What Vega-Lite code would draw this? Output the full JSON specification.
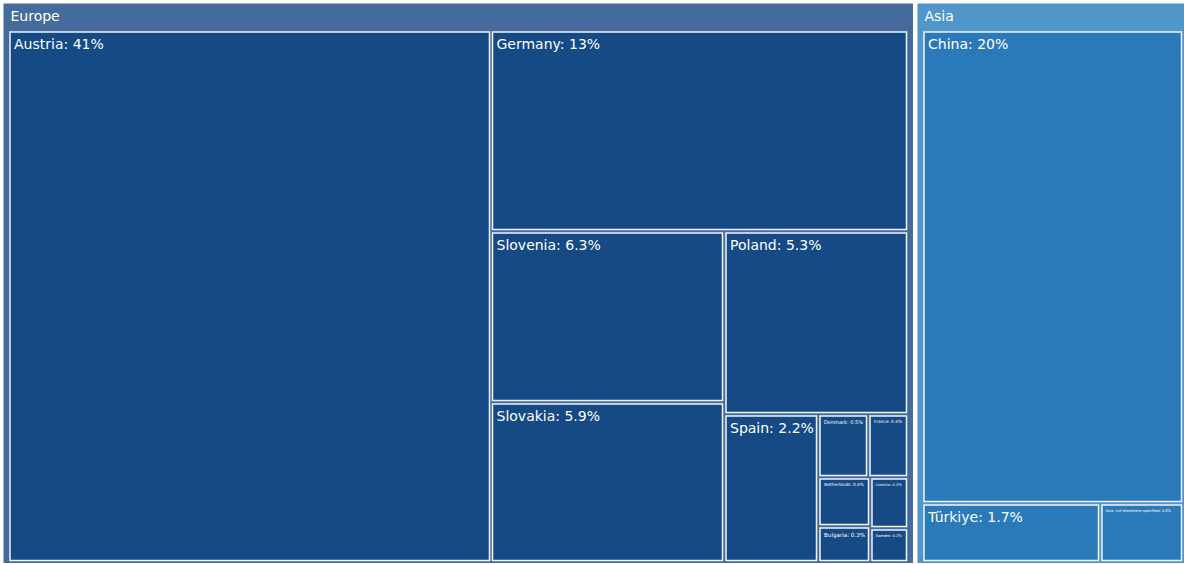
{
  "$schema": "https://vega.github.io/schema/vega-lite/v6.json",
  "autosize": {"type": "fit", "contains": "padding"},
  "width": 1184,
  "height": 564,
  "padding": 0,
  "background": "white",
  "config": {"view": {"stroke": null}, "font": "DejaVu Sans"},
  "datasets": {
    "regions": [
      {"region": "Europe", "x0": 3.5, "x1": 913, "y0": 3.5, "y1": 563},
      {"region": "Asia", "x0": 917.5, "x1": 1184, "y0": 3.5, "y1": 563}
    ],
    "countries": [
      {"continent": "Europe", "name": "Austria", "share": 41, "x0": 10, "x1": 489.5, "y0": 32, "y1": 560.5},
      {"continent": "Europe", "name": "Germany", "share": 13, "x0": 492.5, "x1": 906.5, "y0": 32, "y1": 229.5},
      {"continent": "Europe", "name": "Slovenia", "share": 6.3, "x0": 492.5, "x1": 722.5, "y0": 233, "y1": 400.5},
      {"continent": "Europe", "name": "Slovakia", "share": 5.9, "x0": 492.5, "x1": 722.5, "y0": 404, "y1": 560.5},
      {"continent": "Europe", "name": "Poland", "share": 5.3, "x0": 726, "x1": 906.5, "y0": 233, "y1": 412.5},
      {"continent": "Europe", "name": "Spain", "share": 2.2, "x0": 726, "x1": 816.5, "y0": 416, "y1": 560.5},
      {"continent": "Europe", "name": "Denmark", "share": 0.5, "x0": 820, "x1": 866.5, "y0": 416, "y1": 475.5},
      {"continent": "Europe", "name": "France", "share": 0.4, "x0": 870, "x1": 906.5, "y0": 416, "y1": 475.5},
      {"continent": "Europe", "name": "Netherlands", "share": 0.4, "x0": 820, "x1": 868.5, "y0": 479, "y1": 524.5},
      {"continent": "Europe", "name": "Bulgaria", "share": 0.3, "x0": 820, "x1": 868.5, "y0": 528, "y1": 560.5},
      {"continent": "Europe", "name": "Czechia", "share": 0.3, "x0": 872, "x1": 906.5, "y0": 479, "y1": 526.5},
      {"continent": "Europe", "name": "Sweden", "share": 0.2, "x0": 872, "x1": 906.5, "y0": 530, "y1": 560.5},
      {"continent": "Asia", "name": "China", "share": 20, "x0": 924, "x1": 1181.5, "y0": 32, "y1": 501.5},
      {"continent": "Asia", "name": "Türkiye", "share": 1.7, "x0": 924, "x1": 1098.5, "y0": 505, "y1": 560.5},
      {"continent": "Asia", "name": "Asia, not elsewhere specified", "share": 0.8, "x0": 1102, "x1": 1181.5, "y0": 505, "y1": 560.5}
    ]
  },
  "encoding": {
    "x": {"field": "x0", "type": "quantitative", "scale": {"domain": [0, 1184], "nice": false, "zero": false}, "axis": null},
    "y": {"field": "y0", "type": "quantitative", "scale": {"domain": [0, 564], "nice": false, "zero": false, "reverse": true}, "axis": null}
  },
  "layer": [
    {
      "data": {"name": "regions"},
      "mark": {"type": "rect", "strokeWidth": 0},
      "encoding": {
        "x2": {"field": "x1"},
        "y2": {"field": "y1"},
        "fill": {"field": "region", "type": "nominal", "scale": {"domain": ["Europe", "Asia"], "range": ["#446b9b", "#5096c8"]}, "legend": null}
      }
    },
    {
      "data": {"name": "regions"},
      "mark": {"type": "text", "align": "left", "baseline": "alphabetic", "dx": 7, "dy": 17, "fontSize": 14, "color": "white"},
      "encoding": {"text": {"field": "region"}}
    },
    {
      "data": {"name": "countries"},
      "mark": {"type": "rect", "stroke": "#f0f3f8", "strokeWidth": 1.5},
      "encoding": {
        "x2": {"field": "x1"},
        "y2": {"field": "y1"},
        "color": {"field": "continent", "type": "nominal", "scale": {"domain": ["Europe", "Asia"], "range": ["#154a85", "#2a7ab9"]}, "legend": null}
      }
    },
    {
      "data": {"name": "countries"},
      "transform": [
        {"filter": {"field": "share", "gte": 1}},
        {"calculate": "datum.name + ': ' + datum.share + '%'", "as": "label"}
      ],
      "mark": {"type": "text", "align": "left", "baseline": "alphabetic", "dx": 4, "dy": 17, "fontSize": 14, "color": "white"},
      "encoding": {"text": {"field": "label"}}
    },
    {
      "data": {"name": "countries"},
      "transform": [
        {"filter": {"field": "name", "oneOf": ["Bulgaria"]}},
        {"calculate": "datum.name + ': ' + datum.share + '%'", "as": "label"}
      ],
      "mark": {"type": "text", "align": "left", "baseline": "alphabetic", "dx": 4, "dy": 8.5, "fontSize": 5.6, "color": "white"},
      "encoding": {"text": {"field": "label"}}
    },
    {
      "data": {"name": "countries"},
      "transform": [
        {"filter": {"field": "name", "oneOf": ["Denmark"]}},
        {"calculate": "datum.name + ': ' + datum.share + '%'", "as": "label"}
      ],
      "mark": {"type": "text", "align": "left", "baseline": "alphabetic", "dx": 4, "dy": 7.5, "fontSize": 5, "color": "white"},
      "encoding": {"text": {"field": "label"}}
    },
    {
      "data": {"name": "countries"},
      "transform": [
        {"filter": {"field": "name", "oneOf": ["France", "Netherlands"]}},
        {"calculate": "datum.name + ': ' + datum.share + '%'", "as": "label"}
      ],
      "mark": {"type": "text", "align": "left", "baseline": "alphabetic", "dx": 4, "dy": 7, "fontSize": 4.3, "color": "white"},
      "encoding": {"text": {"field": "label"}}
    },
    {
      "data": {"name": "countries"},
      "transform": [
        {"filter": {"field": "name", "oneOf": ["Czechia", "Sweden", "Asia, not elsewhere specified"]}},
        {"calculate": "datum.name + ': ' + datum.share + '%'", "as": "label"}
      ],
      "mark": {"type": "text", "align": "left", "baseline": "alphabetic", "dx": 3.5, "dy": 6.5, "fontSize": 3.7, "color": "white"},
      "encoding": {"text": {"field": "label"}}
    }
  ]
}
